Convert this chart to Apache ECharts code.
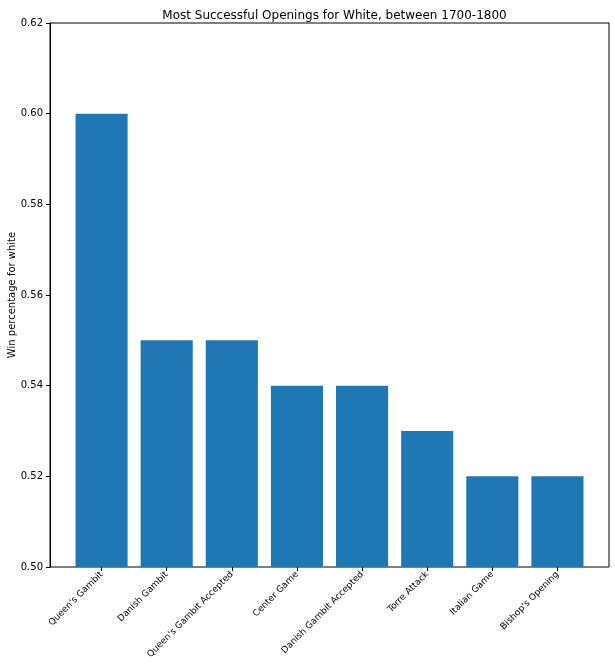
<!DOCTYPE html>
<html><head><meta charset="utf-8">
<script src="https://cdn.jsdelivr.net/npm/echarts@6/dist/echarts.min.js"></script>
<style>html,body{margin:0;padding:0;background:#fff}#c{width:615px;height:665px}</style>
</head><body><div id="c"></div>
<script>
const categories = ["Queen's Gambit","Danish Gambit","Queen's Gambit Accepted","Center Game","Danish Gambit Accepted","Torre Attack","Italian Game","Bishop's Opening"];
const winRates = [0.60,0.55,0.55,0.54,0.54,0.53,0.52,0.52];
const yTicks = {min:0.50, max:0.62, step:0.02};
const titleText = 'Most Successful Openings for White, between 1700-1800';
const yName = 'Win percentage for white';

const font = 'DejaVu Sans';
const chart = echarts.init(document.getElementById('c'));
chart.setOption({
  animation:false,
  title:{text:titleText,left:329.5,top:5,textAlign:'center',
    textStyle:{fontFamily:font,fontSize:12,fontWeight:'normal',color:'#000'}},
  grid:[
    {left:50,right:6,top:23,bottom:98,containLabel:false,outerBoundsMode:'none',show:true,borderColor:'#000',borderWidth:1,backgroundColor:'transparent'},
    {left:69,right:25,top:23,bottom:98,containLabel:false,outerBoundsMode:'none'}
  ],
  xAxis:[
    {gridIndex:0,type:'value',min:0,max:1,show:false},
    {gridIndex:1,type:'category',data:categories,
      axisLine:{show:false},
      axisTick:{show:true,alignWithLabel:true,length:4,lineStyle:{color:'#000'}},
      axisLabel:{rotate:45,fontFamily:font,fontSize:9,color:'#000',margin:6,interval:0}}
  ],
  yAxis:[
    {gridIndex:0,type:'value',min:yTicks.min,max:yTicks.max,interval:yTicks.step,
      name:yName,nameLocation:'middle',nameGap:33,nameMoveOverlap:false,
      nameTextStyle:{fontFamily:font,fontSize:10,color:'#000'},
      axisLine:{show:true,lineStyle:{color:'#000'}},
      axisTick:{show:true,length:4,lineStyle:{color:'#000'}},
      splitLine:{show:false},
      axisLabel:{fontFamily:font,fontSize:10,color:'#000',margin:7,formatter:v=>v.toFixed(2)}},
    {gridIndex:1,type:'value',min:yTicks.min,max:yTicks.max,show:false,splitLine:{show:false}}
  ],
  series:[{type:'bar',xAxisIndex:1,yAxisIndex:1,data:winRates,barWidth:'80%',
    itemStyle:{color:'#1f77b4'}}]
});
</script></body></html>
